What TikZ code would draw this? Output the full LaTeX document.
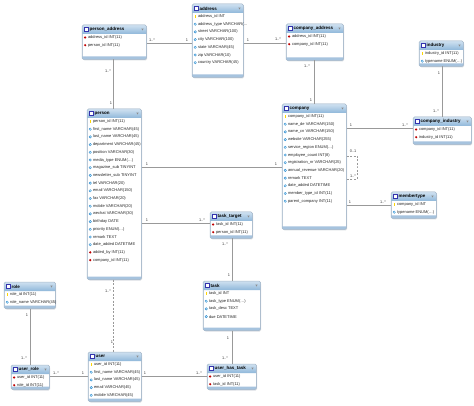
\documentclass[tikz,border=0pt]{standalone}
\usepackage{fontspec}
\setmainfont{Liberation Sans}
\usetikzlibrary{shapes.geometric}
\definecolor{hdrtop}{HTML}{CFE1F0}
\definecolor{hdrbot}{HTML}{8FB7DA}
\definecolor{frame}{HTML}{A7B9CB}
\definecolor{strip}{HTML}{A6C3DE}
\definecolor{conn}{HTML}{999999}
\definecolor{shadowc}{HTML}{DADDE2}
\tikzset{
  tbl/.style={draw=frame, fill=white, rounded corners=1.5pt, line width=0.5pt, inner sep=0pt},
  rowtext/.style={anchor=west, font=\fontsize{4}{4}\selectfont, text=black!85, inner sep=0pt},
  ttl/.style={anchor=west, font=\bfseries\fontsize{4.5}{5}\selectfont, text=black, inner sep=0pt},
  lbl/.style={font=\fontsize{3.9}{4}\selectfont, text=black!75, inner sep=0pt},
  rel/.style={draw=conn, line width=0.75pt},
  reld/.style={rel, dash pattern=on 2pt off 1.5pt},
  hicon/.style={rectangle, draw=blue!60!black!80, fill=white, minimum size=3.8pt, inner sep=0pt, line width=0.5pt},
  tri/.style={regular polygon, regular polygon sides=3, shape border rotate=180, fill=black!45, minimum size=2.6pt, inner sep=0pt},
  icp/.style={rectangle, fill=yellow!75!orange, minimum width=1.4pt, minimum height=2.6pt, inner sep=0pt},
  icf/.style={diamond, fill=red!75!black, minimum size=2.6pt, inner sep=0pt},
  icn/.style={diamond, draw=cyan!60!blue, fill=cyan!20, line width=0.3pt, minimum size=2.6pt, inner sep=0pt},
}
\newcommand\ertable[7]{%
  \fill[shadowc, rounded corners=1.5pt] (#2+1.2,#3+1.5) rectangle ++(#4,#5);
  \node[tbl, minimum width=#4pt, minimum height=#5pt, anchor=north west] (#1) at (#2,#3) {};
  \shade[top color=hdrtop, bottom color=hdrbot] ([yshift=-9pt]#1.north west) [rounded corners=1.5pt] -- (#1.north west) -- (#1.north east) [sharp corners] -- ([yshift=-9pt]#1.north east) -- cycle;
  \fill[strip] ([yshift=3pt]#1.south west) [rounded corners=1.5pt] -- (#1.south west) -- (#1.south east) [sharp corners] -- ([yshift=3pt]#1.south east) -- cycle;
  \draw[draw=frame, line width=0.5pt, rounded corners=1.5pt] (#1.north west) rectangle (#1.south east);
  \node[hicon] (#1-ic) at ([xshift=4pt,yshift=-4.5pt]#1.north west) {};
  \node[ttl] (#1-t) at ([xshift=7.4pt,yshift=-4.6pt]#1.north west) {#6};
  \node[tri] (#1-tr) at ([xshift=-4pt,yshift=-4.2pt]#1.north east) {};
  \foreach \k/\t [count=\i] in {#7} {
    \node[ic\k] (#1-k\i) at ([xshift=3.2pt,yshift={-12.5pt-(\i-1)*7.7pt}]#1.north west) {};
    \node[rowtext] (#1-r\i) at ([xshift=5.8pt,yshift={-12.5pt-(\i-1)*7.7pt}]#1.north west) {\t};
  }
}
\begin{document}
\begin{tikzpicture}[x=1pt,y=-1pt]
\fill[white] (0,0) rectangle (474,406);
\useasboundingbox (0,0) rectangle (474,406);

\ertable{pa}{82}{25}{64}{34}{person\_address}{f/address\_id INT(11), f/person\_id INT(11)}
\ertable{addr}{192}{4}{51}{73}{address}{p/address\_id INT, n/address\_type VARCHAR(\ldots, n/street VARCHAR(100), n/city VARCHAR(100), n/state VARCHAR(45), n/zip VARCHAR(10), n/country VARCHAR(45)}
\ertable{ca}{286}{24}{57}{36}{company\_address}{f/address\_id INT(11), f/company\_id INT(11)}
\ertable{ind}{419}{41}{44}{25}{industry}{p/industry\_id INT(11), n/typename ENUM(\ldots)}
\ertable{ci}{413}{117}{58}{27}{company\_industry}{f/company\_id INT(11), f/industry\_id INT(11)}
\ertable{person}{87}{109}{54}{170}{person}{p/person\_id INT(11), n/first\_name VARCHAR(45), n/last\_name VARCHAR(45), n/department VARCHAR(45), n/position VARCHAR(30), n/media\_type ENUM(\ldots), n/magazine\_sub TINYINT, n/newsletter\_sub TINYINT, n/tel VARCHAR(20), n/email VARCHAR(150), n/fax VARCHAR(20), n/mobile VARCHAR(20), n/wechat VARCHAR(30), n/birthday DATE, n/priority ENUM(\ldots), n/remark TEXT, n/date\_added DATETIME, f/added\_by INT(11), f/company\_id INT(11)}
\ertable{company}{282}{104}{64}{125}{company}{p/company\_id INT(11), n/name\_de VARCHAR(150), n/name\_cn VARCHAR(150), n/website VARCHAR(255), n/service\_region ENUM(\ldots), n/employee\_count INT(8), n/registration\_nr VARCHAR(25), n/annual\_revenue VARCHAR(20), n/remark TEXT, n/date\_added DATETIME, n/member\_type\_id INT(11), n/parent\_company INT(11)}
\ertable{mt}{391}{192}{45}{26}{membertype}{p/company\_id INT, n/typename ENUM(\ldots)}
\ertable{tt}{210}{212}{42}{26}{task\_target}{f/task\_id INT(11), f/person\_id INT(11)}
\ertable{task}{203}{281}{57}{49}{task}{p/task\_id INT, n/task\_type ENUM(\ldots), n/task\_desc TEXT, n/due DATETIME}
\ertable{uht}{207}{364}{49}{25}{user\_has\_task}{f/user\_id INT(11), f/task\_id INT(11)}
\ertable{user}{88}{352}{53}{49}{user}{p/user\_id INT(11), n/first\_name VARCHAR(45), n/last\_name VARCHAR(45), n/email VARCHAR(45), n/mobile VARCHAR(45)}
\ertable{role}{4}{282}{51}{26}{role}{p/role\_id INT(11), n/role\_name VARCHAR(45)}
\ertable{ur}{11}{365}{38}{24}{user\_role}{f/user\_id INT(11), f/role\_id INT(11)}

% connectors
\draw[rel] (pa.east |- 0,43) -- (addr.west |- 0,43);
\draw[rel] (addr.east |- 0,43) -- (ca.west |- 0,43);
\draw[rel] (pa.south -| 113,0) -- (person.north -| 113,0);
\draw[rel] (ca.south -| 314,0) -- (company.north -| 314,0);
\draw[rel] (ind.south -| 442,0) -- (ci.north -| 442,0);
\draw[rel] (company.east |- 0,128) -- (ci.west |- 0,128);
\coordinate (selfc) at (357,167);
\draw[reld] (company.east |- 0,156) -| (selfc) |- (company.east |- 0,179);
\draw[rel] (person.east |- 0,167) -- (company.west |- 0,167);
\draw[rel] (company.east |- 0,205) -- (mt.west |- 0,205);
\draw[rel] (person.east |- 0,223) -- (tt.west |- 0,223);
\draw[rel] (tt.south -| 232,0) -- (task.north -| 232,0);
\draw[rel] (task.south -| 232,0) -- (uht.north -| 232,0);
\draw[reld] (person.south -| 113,0) -- (user.north -| 113,0);
\draw[rel] (role.south -| 30,0) -- (ur.north -| 30,0);
\draw[rel] (ur.east |- 0,376) -- (user.west |- 0,376);
\draw[rel] (user.east |- 0,376) -- (uht.west |- 0,376);

% labels
\node[lbl] (l1) at (152,40) {1..*};
\node[lbl] (l2) at (187,40) {1};
\node[lbl] (l3) at (248,40) {1};
\node[lbl] (l4) at (278,39) {1..*};
\node[lbl] (l5) at (108,71) {1..*};
\node[lbl] (l6) at (111,103) {1};
\node[lbl] (l7) at (307,66) {1..*};
\node[lbl] (l8) at (311,100) {1};
\node[lbl] (l9) at (439,73) {1};
\node[lbl] (l10) at (436,111) {1..*};
\node[lbl] (l11) at (351,125) {1};
\node[lbl] (l12) at (405,125) {1..*};
\node[lbl] (l13) at (353,151) {0..1};
\node[lbl] (l14) at (353,176) {1..*};
\node[lbl] (l15) at (147,164) {1};
\node[lbl] (l16) at (276,164) {1};
\node[lbl] (l17) at (350,202) {1};
\node[lbl] (l18) at (383,202) {1..*};
\node[lbl] (l19) at (147,220) {1};
\node[lbl] (l20) at (202,220) {1..*};
\node[lbl] (l21) at (225,244) {1..*};
\node[lbl] (l22) at (229,275) {1};
\node[lbl] (l23) at (228,338) {1};
\node[lbl] (l24) at (225,358) {1..*};
\node[lbl] (l25) at (108,291) {1..*};
\node[lbl] (l26) at (112,342) {1};
\node[lbl] (l27) at (27,315) {1};
\node[lbl] (l28) at (24,358) {1..*};
\node[lbl] (l29) at (56,373) {1..*};
\node[lbl] (l30) at (83,373) {1};
\node[lbl] (l31) at (145,373) {1};
\node[lbl] (l32) at (199,373) {1..*};
\end{tikzpicture}
\end{document}
